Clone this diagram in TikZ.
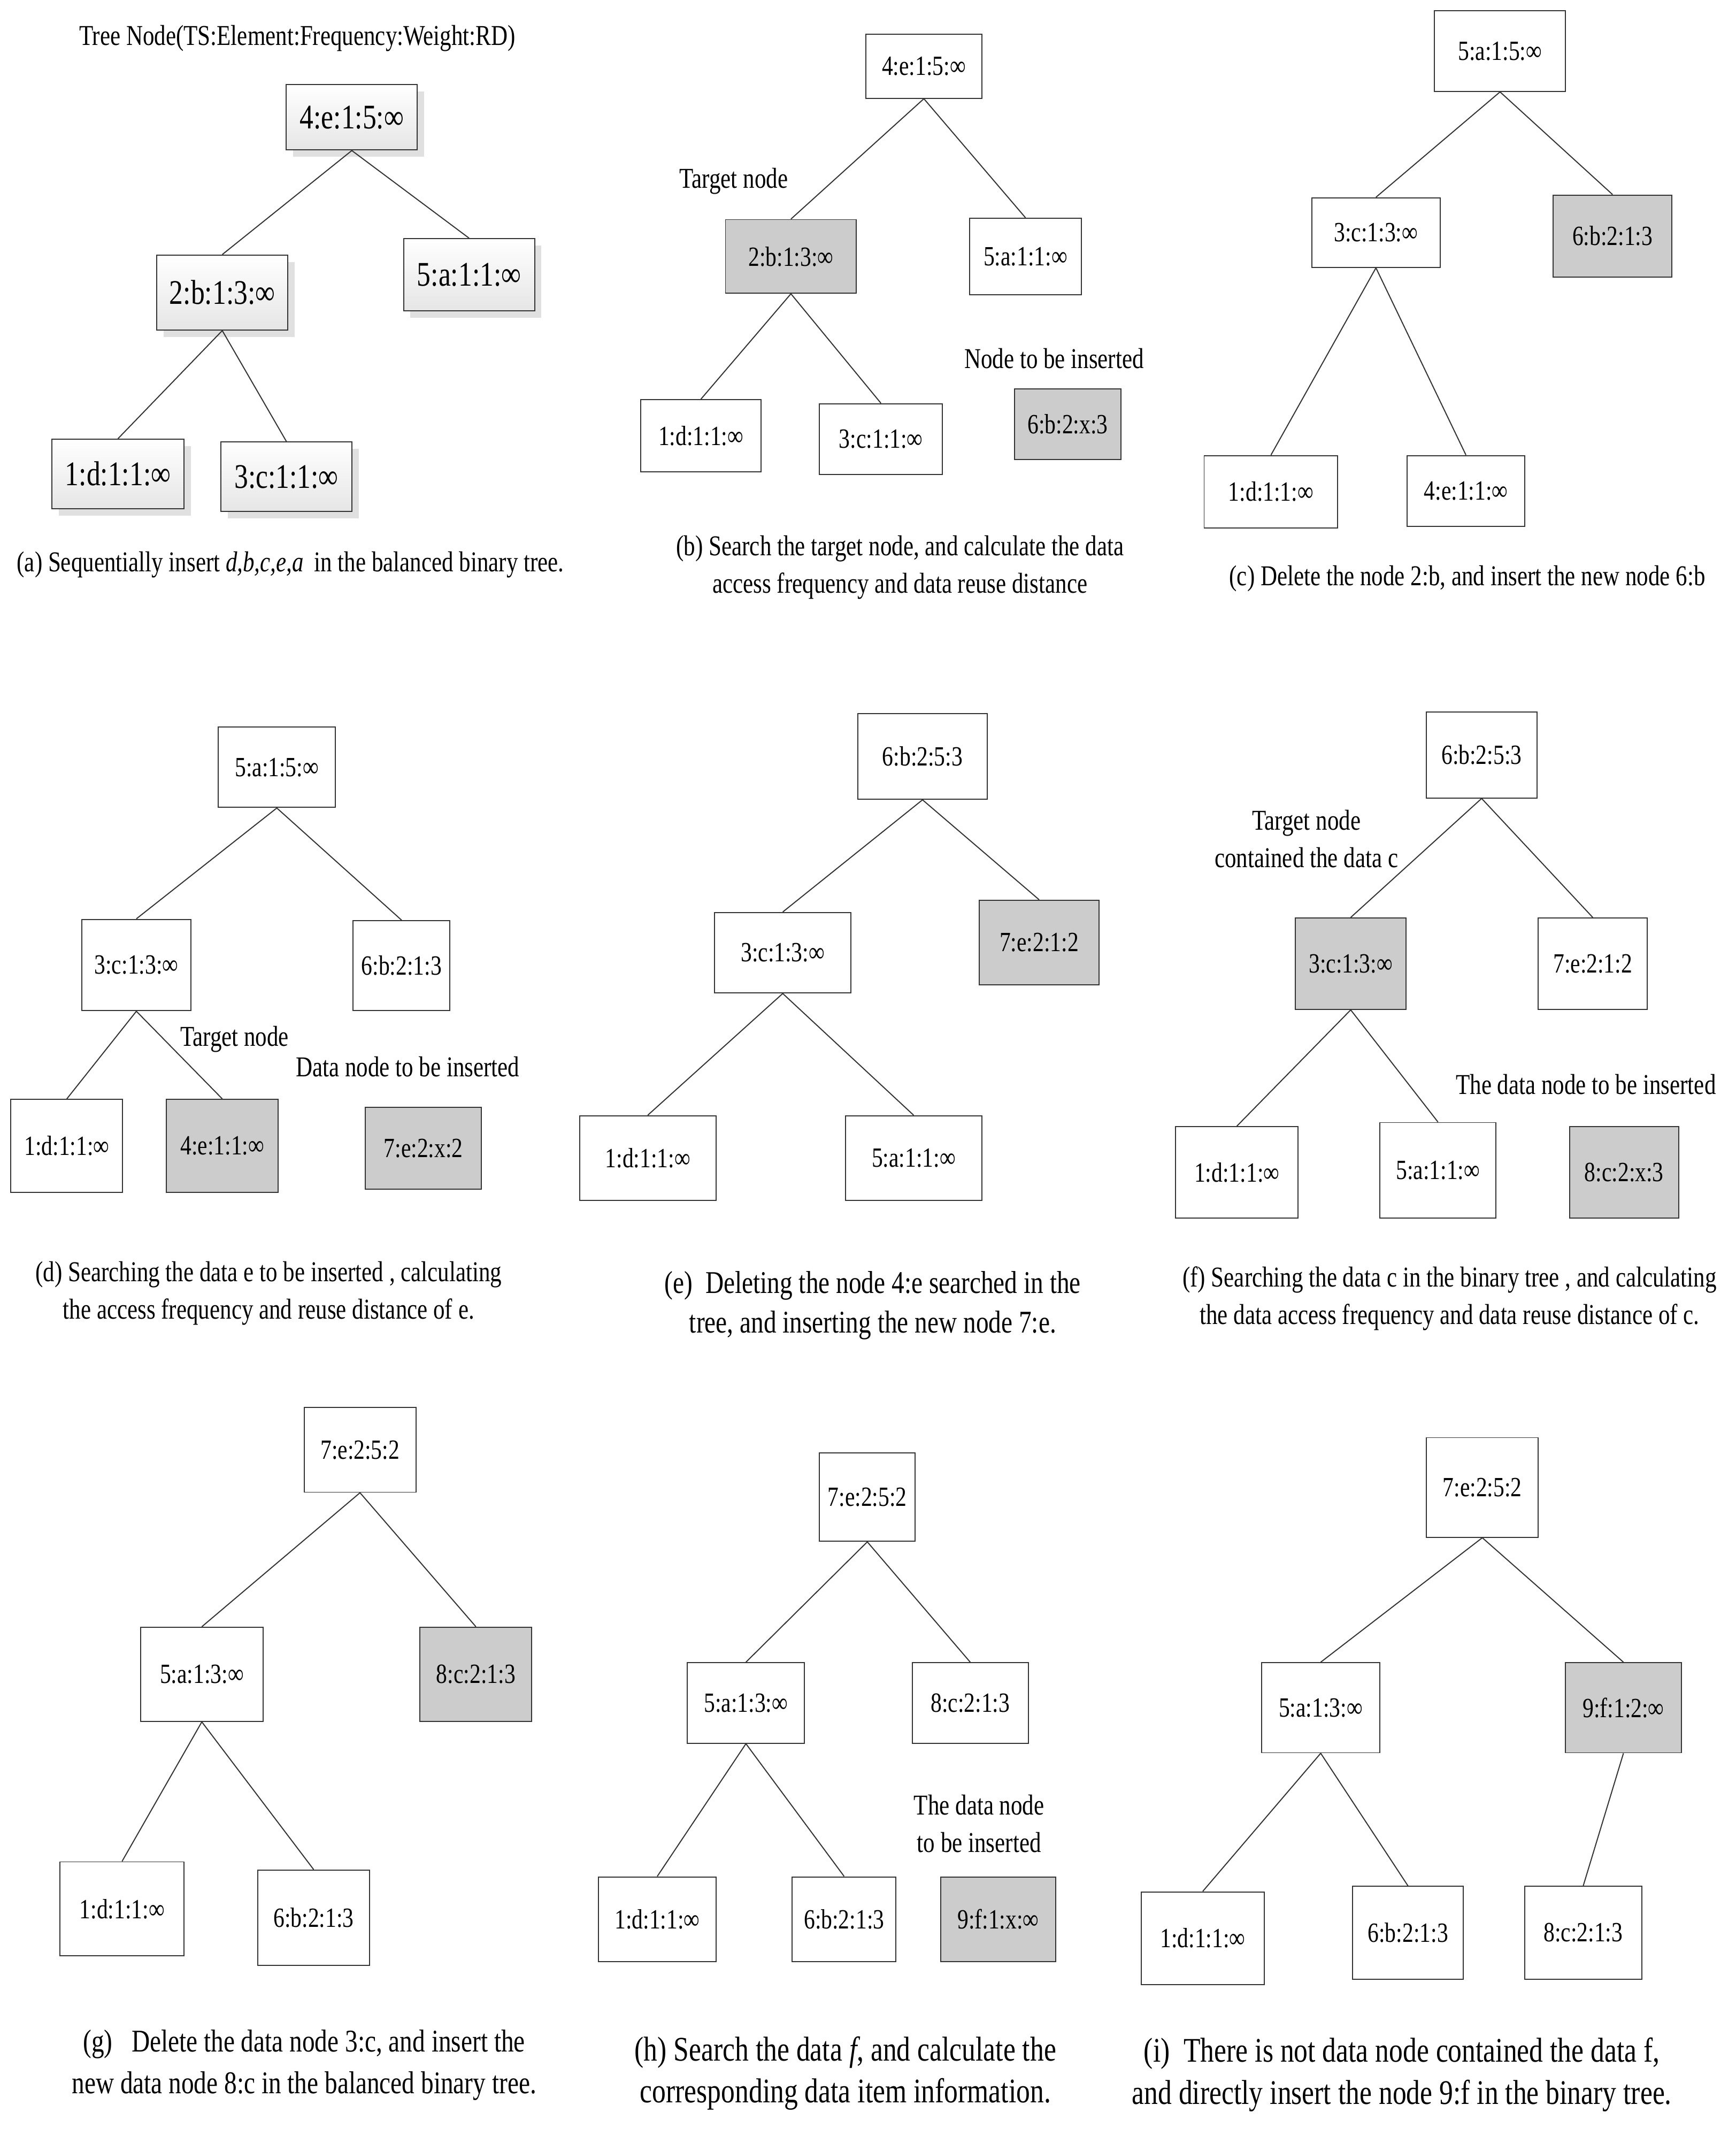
\documentclass[tikz,border=0pt]{standalone}
\usepackage{fontspec}
\setmainfont[FakeStretch=0.8]{Liberation Serif}
\begin{document}
\begin{tikzpicture}[x=0.5mm,y=-0.5mm,
  bx/.style={draw=black!80,line width=1.1pt,fill=white,inner sep=0pt,font=\fontsize{29}{34}\selectfont},
  gb/.style={bx,fill=black!20},
  ab/.style={bx,top color=white,bottom color=black!10,font=\fontsize{36}{42}\selectfont},
  lbl/.style={font=\fontsize{30}{36}\selectfont,align=center,inner sep=0pt},
  big/.style={lbl,font=\fontsize{33}{40}\selectfont},
  ed/.style={line width=1.1pt,draw=black!80}]
\useasboundingbox (0,0) rectangle (1273,1577);
\newcommand{\nd}[7]{\node[#7,minimum width={(#4-#2)*0.5mm},minimum height={(#5-#3)*0.5mm}] (#1) at ({(#2+#4)/2},{(#3+#5)/2}) {#6};}
\newcommand{\sh}[4]{\fill[black!12] (#1+5,#2+5) rectangle (#3+5,#4+5);}
% (a)
\node[lbl] (ta) at (218,28) {Tree Node(TS:Element:Frequency:Weight:RD)};
\sh{210}{62}{306}{110}\sh{115}{187}{211}{242}\sh{296}{175}{392}{228}\sh{38}{322}{135}{373}\sh{162}{324}{258}{375}
\nd{a1}{210}{62}{306}{110}{4:e:1:5:∞}{ab}
\nd{a2}{115}{187}{211}{242}{2:b:1:3:∞}{ab}
\nd{a3}{296}{175}{392}{228}{5:a:1:1:∞}{ab}
\nd{a4}{38}{322}{135}{373}{1:d:1:1:∞}{ab}
\nd{a5}{162}{324}{258}{375}{3:c:1:1:∞}{ab}
\draw[ed] (a1.south)--(a2.north) (a1.south)--(a3.north) (a2.south)--(a4.north) (a2.south)--(a5.north);
\node[lbl] (ca) at (213,414) {(a) Sequentially insert \textit{d,b,c,e,a}\, in the balanced binary tree.};
% (b)
\nd{b1}{635}{25}{720}{72}{4:e:1:5:∞}{bx}
\nd{b2}{532}{161}{628}{215}{2:b:1:3:∞}{gb}
\nd{b3}{711}{160}{793}{216}{5:a:1:1:∞}{bx}
\nd{b4}{470}{293}{558}{346}{1:d:1:1:∞}{bx}
\nd{b5}{601}{296}{691}{348}{3:c:1:1:∞}{bx}
\nd{b6}{744}{285}{822}{337}{6:b:2:x:3}{gb}
\draw[ed] (b1.south)--(b2.north) (b1.south)--(b3.north) (b2.south)--(b4.north) (b2.south)--(b5.north);
\node[lbl] (tb) at (538,133) {Target node};
\node[lbl] (nb) at (773,263) {Node to be inserted};
\node[lbl] (cb) at (660,416) {(b) Search the target node, and calculate the data\\[3pt]access frequency and data reuse distance};
% (c)
\nd{c1}{1052}{8}{1148}{67}{5:a:1:5:∞}{bx}
\nd{c2}{962}{145}{1056}{196}{3:c:1:3:∞}{bx}
\nd{c3}{1139}{143}{1226}{203}{6:b:2:1:3}{gb}
\nd{c4}{883}{334}{981}{387}{1:d:1:1:∞}{bx}
\nd{c5}{1032}{334}{1118}{386}{4:e:1:1:∞}{bx}
\draw[ed] (c1.south)--(c2.north) (c1.south)--(c3.north) (c2.south)--(c4.north) (c2.south)--(c5.north);
\node[lbl] (cc) at (1076,424) {(c) Delete the node 2:b, and insert the new node 6:b};
% (d)
\nd{d1}{160}{533}{246}{592}{5:a:1:5:∞}{bx}
\nd{d2}{60}{674}{140}{741}{3:c:1:3:∞}{bx}
\nd{d3}{259}{675}{330}{741}{6:b:2:1:3}{bx}
\nd{d4}{8}{806}{90}{874}{1:d:1:1:∞}{bx}
\nd{d5}{122}{806}{204}{874}{4:e:1:1:∞}{gb}
\nd{d6}{268}{812}{353}{872}{7:e:2:x:2}{gb}
\draw[ed] (d1.south)--(d2.north) (d1.south)--(d3.north) (d2.south)--(d4.north) (d2.south)--(d5.north);
\node[lbl] (td) at (172,762) {Target node};
\node[lbl] (nd) at (299,782) {Data node to be inserted};
\node[lbl] (cd) at (197,948) {(d) Searching the data e to be inserted , calculating\\[3pt]the access frequency and reuse distance of e.};
% (e)
\nd{e1}{629}{523}{724}{586}{6:b:2:5:3}{bx}
\nd{e2}{524}{669}{624}{728}{3:c:1:3:∞}{bx}
\nd{e3}{718}{660}{806}{722}{7:e:2:1:2}{gb}
\nd{e4}{425}{818}{525}{880}{1:d:1:1:∞}{bx}
\nd{e5}{620}{818}{720}{880}{5:a:1:1:∞}{bx}
\draw[ed] (e1.south)--(e2.north) (e1.south)--(e3.north) (e2.south)--(e4.north) (e2.south)--(e5.north);
\node[big] (ce) at (640,957) {(e)\ \ Deleting the node 4:e searched in the\\[1pt]tree, and inserting the new node 7:e.};
% (f)
\nd{f1}{1046}{522}{1127}{585}{6:b:2:5:3}{bx}
\nd{f2}{950}{673}{1031}{740}{3:c:1:3:∞}{gb}
\nd{f3}{1128}{673}{1208}{740}{7:e:2:1:2}{bx}
\nd{f4}{862}{826}{952}{893}{1:d:1:1:∞}{bx}
\nd{f5}{1012}{823}{1097}{893}{5:a:1:1:∞}{bx}
\nd{f6}{1151}{826}{1231}{893}{8:c:2:x:3}{gb}
\draw[ed] (f1.south)--(f2.north) (f1.south)--(f3.north) (f2.south)--(f4.north) (f2.south)--(f5.north);
\node[lbl] (tf) at (958,615) {Target node\\[3pt]contained the data c};
\node[lbl] (nf) at (1163,795) {The data node to be inserted};
\node[lbl] (cf) at (1063,952) {(f) Searching the data c in the binary tree , and calculating\\[3pt]the data access frequency and data reuse distance of c.};
% (g)
\nd{g1}{223}{1032}{305}{1094}{7:e:2:5:2}{bx}
\nd{g2}{103}{1193}{193}{1262}{5:a:1:3:∞}{bx}
\nd{g3}{308}{1193}{390}{1262}{8:c:2:1:3}{gb}
\nd{g4}{44}{1365}{135}{1434}{1:d:1:1:∞}{bx}
\nd{g5}{189}{1371}{271}{1441}{6:b:2:1:3}{bx}
\draw[ed] (g1.south)--(g2.north) (g1.south)--(g3.north) (g2.south)--(g4.north) (g2.south)--(g5.north);
\node[big] (cg) at (223,1514) {(g)\ \ \ Delete the data node 3:c, and insert the\\[4pt]new data node 8:c in the balanced binary tree.};
% (h)
\nd{h1}{601}{1065}{671}{1130}{7:e:2:5:2}{bx}
\nd{h2}{504}{1219}{590}{1278}{5:a:1:3:∞}{bx}
\nd{h3}{669}{1219}{754}{1278}{8:c:2:1:3}{bx}
\nd{h4}{439}{1376}{525}{1438}{1:d:1:1:∞}{bx}
\nd{h5}{581}{1376}{657}{1438}{6:b:2:1:3}{bx}
\nd{h6}{690}{1376}{774}{1438}{9:f:1:x:∞}{gb}
\draw[ed] (h1.south)--(h2.north) (h1.south)--(h3.north) (h2.south)--(h4.north) (h2.south)--(h5.north);
\node[lbl] (nh) at (718,1337) {The data node\\[3pt]to be inserted};
\node[big,font=\fontsize{36}{42}\selectfont] (ch) at (620,1520) {(h) Search the data \textit{f}, and calculate the\\[2pt]corresponding data item information.};
% (i)
\nd{i1}{1046}{1054}{1128}{1127}{7:e:2:5:2}{bx}
\nd{i2}{925}{1219}{1012}{1285}{5:a:1:3:∞}{bx}
\nd{i3}{1148}{1219}{1233}{1285}{9:f:1:2:∞}{gb}
\nd{i4}{837}{1387}{927}{1455}{1:d:1:1:∞}{bx}
\nd{i5}{992}{1383}{1073}{1451}{6:b:2:1:3}{bx}
\nd{i6}{1118}{1383}{1204}{1451}{8:c:2:1:3}{bx}
\draw[ed] (i1.south)--(i2.north) (i1.south)--(i3.north) (i2.south)--(i4.north) (i2.south)--(i5.north) (i3.south)--(i6.north);
\node[big,font=\fontsize{36}{42}\selectfont] (ci) at (1028,1521) {(i)\ \ There is not data node contained the data f,\\[2pt]and directly insert the node 9:f in the binary tree.};
\end{tikzpicture}
\end{document}
